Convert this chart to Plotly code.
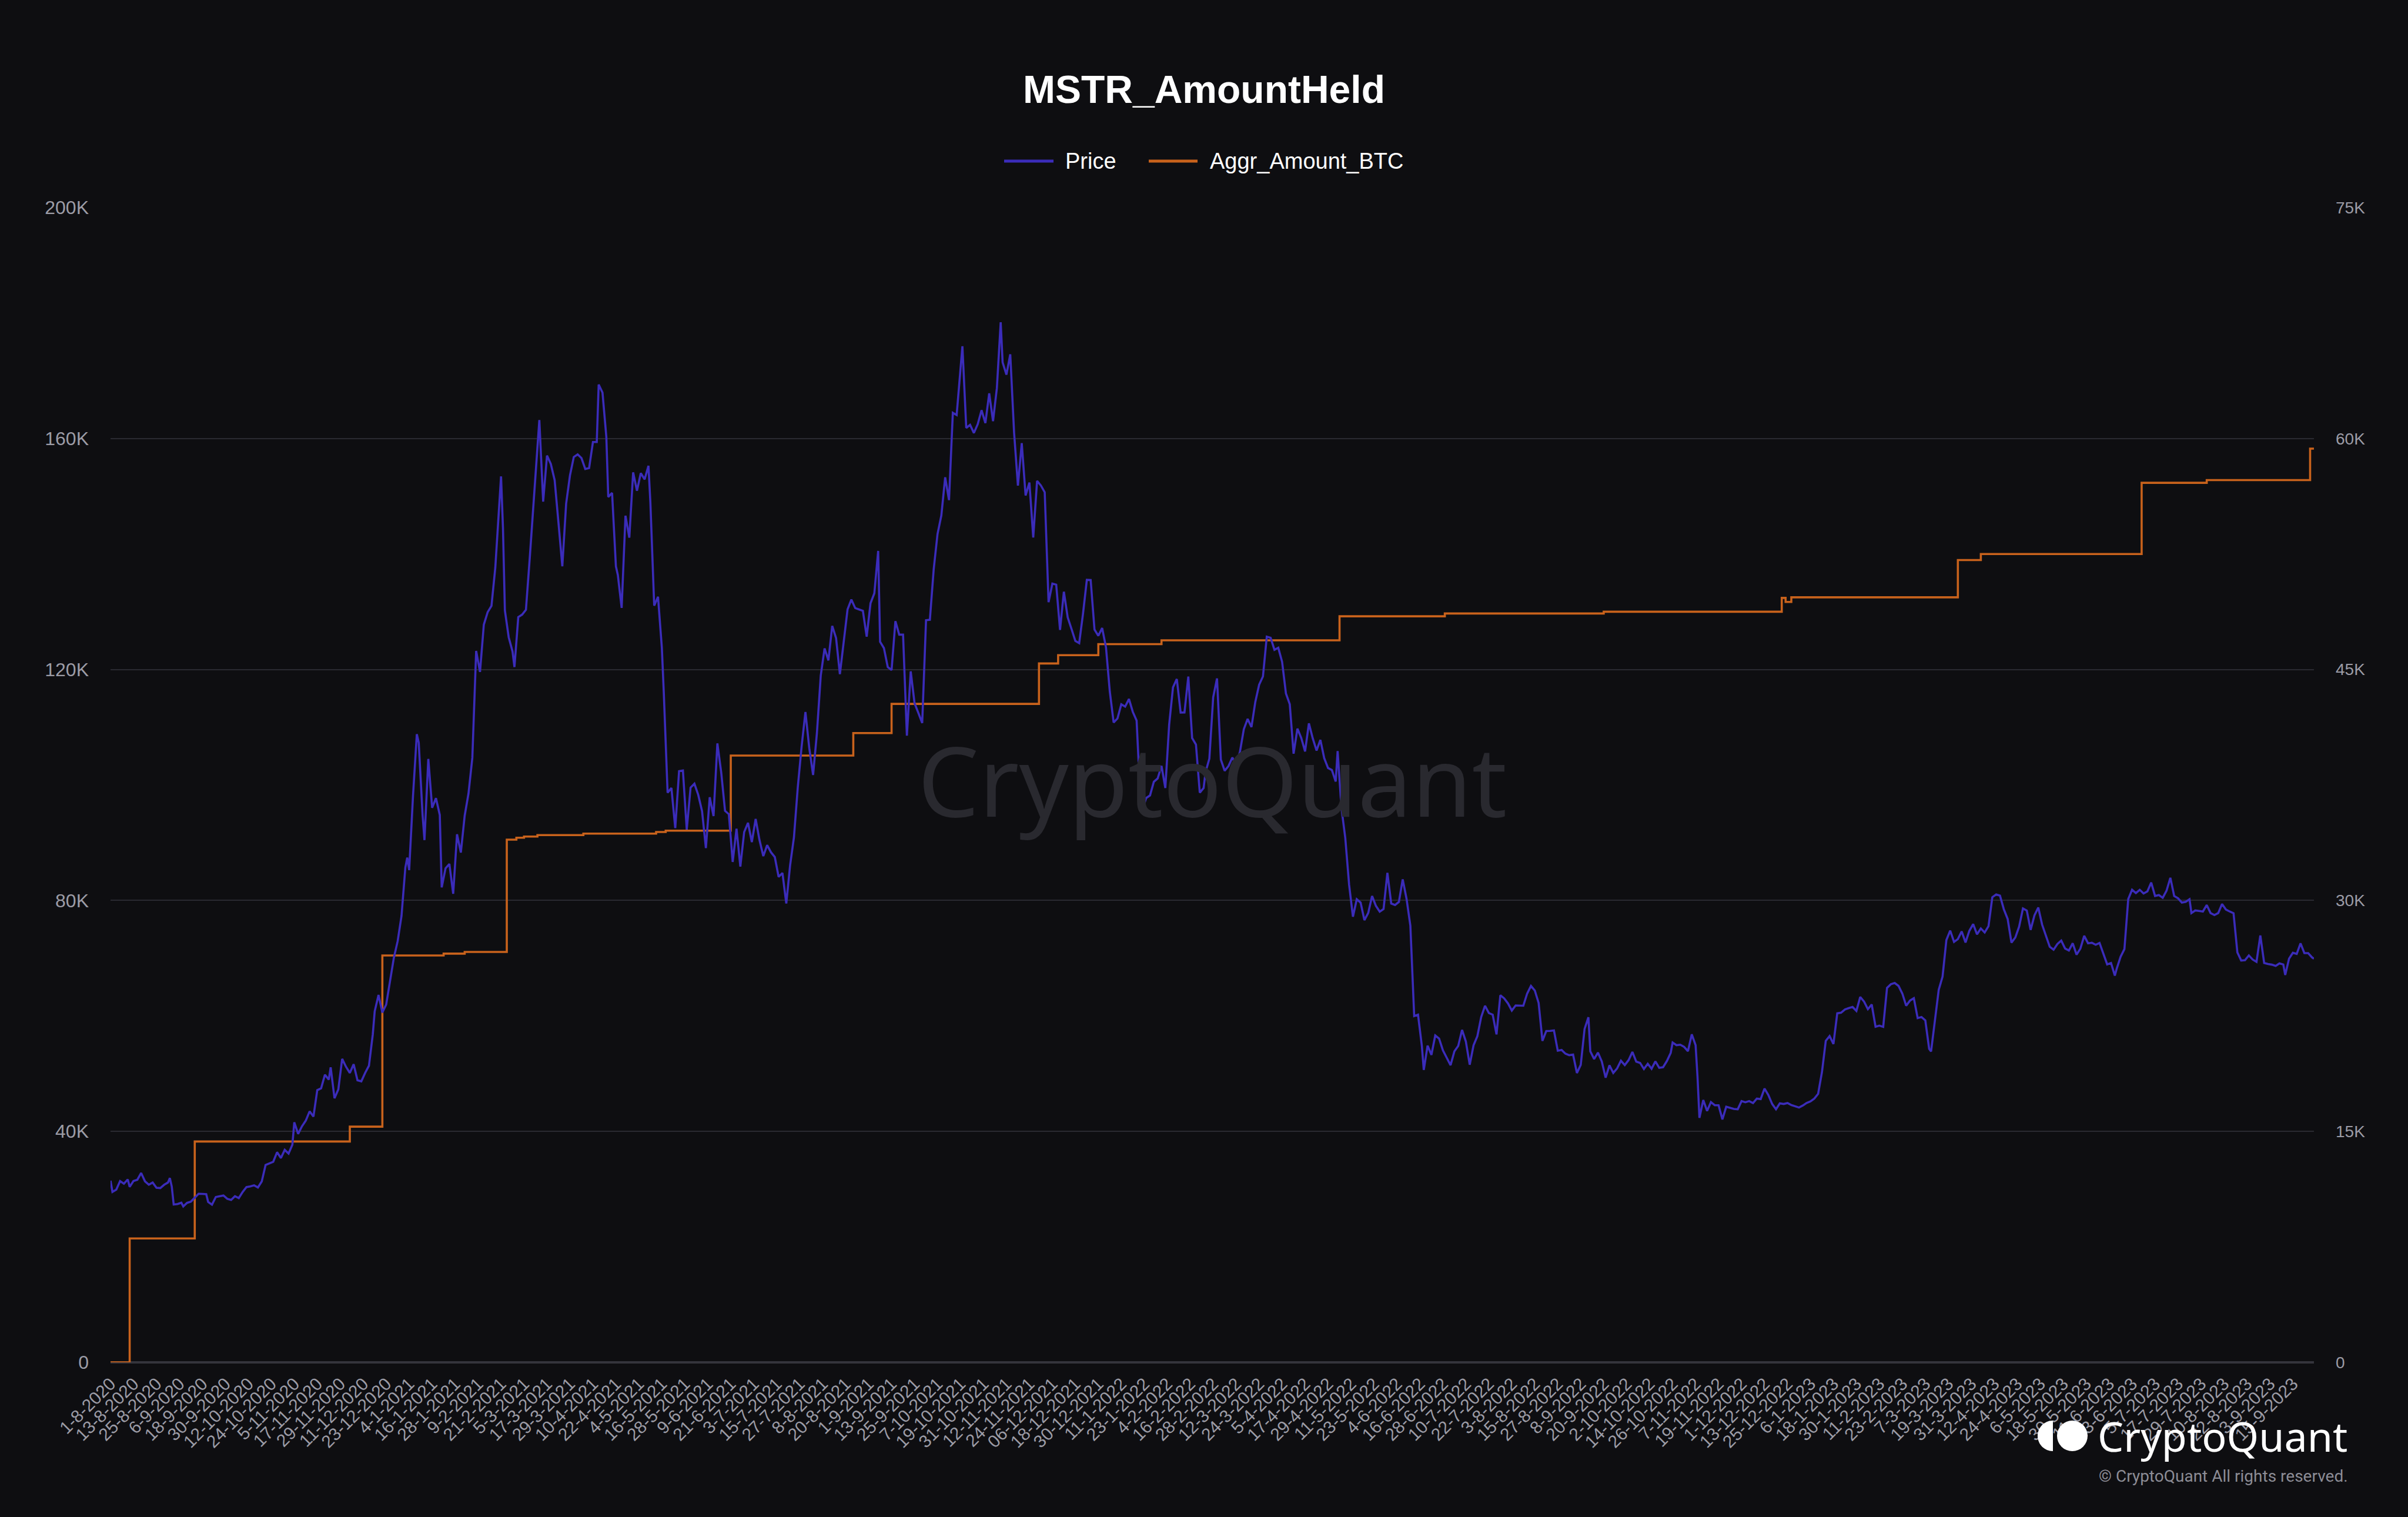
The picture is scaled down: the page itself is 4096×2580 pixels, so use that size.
import plotly.graph_objects as go
import datetime as dt

# ---------------- data ----------------
PRICE_2020 = [
    ("2020-08-01", 11800), ("2020-08-02", 11070), ("2020-08-04", 11220), ("2020-08-06", 11770), ("2020-08-08", 11600),
    ("2020-08-10", 11880), ("2020-08-11", 11400), ("2020-08-13", 11780), ("2020-08-15", 11860), ("2020-08-17", 12300),
    ("2020-08-19", 11760), ("2020-08-21", 11540), ("2020-08-23", 11680), ("2020-08-25", 11340), ("2020-08-27", 11320),
    ("2020-08-29", 11530), ("2020-08-31", 11680), ("2020-09-01", 11970), ("2020-09-02", 11410), ("2020-09-03", 10250),
    ("2020-09-05", 10280), ("2020-09-07", 10370), ("2020-09-08", 10130), ("2020-09-10", 10360), ("2020-09-12", 10440),
    ("2020-09-14", 10680), ("2020-09-16", 10950), ("2020-09-18", 10940), ("2020-09-20", 10920), ("2020-09-21", 10420),
    ("2020-09-23", 10240), ("2020-09-25", 10740), ("2020-09-27", 10780), ("2020-09-29", 10840), ("2020-10-01", 10620),
    ("2020-10-03", 10550), ("2020-10-05", 10790), ("2020-10-07", 10670), ("2020-10-09", 11060), ("2020-10-11", 11380),
    ("2020-10-13", 11430), ("2020-10-15", 11500), ("2020-10-17", 11360), ("2020-10-19", 11750), ("2020-10-21", 12820),
    ("2020-10-23", 12930), ("2020-10-25", 13030), ("2020-10-27", 13650), ("2020-10-29", 13270), ("2020-10-31", 13800),
    ("2020-11-02", 13560), ("2020-11-04", 14140), ("2020-11-05", 15590), ("2020-11-07", 14840), ("2020-11-09", 15330),
    ("2020-11-11", 15700), ("2020-11-13", 16300), ("2020-11-15", 15960), ("2020-11-17", 17680), ("2020-11-19", 17800),
    ("2020-11-21", 18680), ("2020-11-23", 18360), ("2020-11-24", 19160), ("2020-11-26", 17150), ("2020-11-28", 17730),
    ("2020-11-30", 19710), ("2020-12-02", 19200), ("2020-12-04", 18800), ("2020-12-06", 19360), ("2020-12-08", 18320),
    ("2020-12-10", 18250), ("2020-12-12", 18800), ("2020-12-14", 19270), ("2020-12-16", 21300), ("2020-12-17", 22800),
    ("2020-12-19", 23860), ("2020-12-21", 22720), ("2020-12-23", 23240), ("2020-12-25", 24700), ("2020-12-27", 26270),
    ("2020-12-29", 27360), ("2020-12-31", 28990),
]
PRICE_2021 = [
    ("2021-01-02", 32130), ("2021-01-03", 32780), ("2021-01-04", 31970), ("2021-01-06", 36770), ("2021-01-08", 40800),
    ("2021-01-09", 40250), ("2021-01-11", 35570), ("2021-01-12", 33920), ("2021-01-14", 39190), ("2021-01-16", 36020),
    ("2021-01-18", 36640), ("2021-01-20", 35550), ("2021-01-21", 30850), ("2021-01-23", 32080), ("2021-01-25", 32370),
    ("2021-01-27", 30430), ("2021-01-29", 34300), ("2021-01-31", 33110), ("2021-02-02", 35500), ("2021-02-04", 36950),
    ("2021-02-06", 39260), ("2021-02-08", 46200), ("2021-02-10", 44840), ("2021-02-12", 47910), ("2021-02-14", 48720),
    ("2021-02-16", 49130), ("2021-02-18", 51620), ("2021-02-20", 55890), ("2021-02-21", 57540), ("2021-02-22", 54200),
    ("2021-02-23", 48840), ("2021-02-25", 47090), ("2021-02-27", 46170), ("2021-02-28", 45160), ("2021-03-02", 48400),
    ("2021-03-04", 48560), ("2021-03-06", 48880), ("2021-03-08", 52250), ("2021-03-10", 55880), ("2021-03-13", 61200),
    ("2021-03-15", 55900), ("2021-03-17", 58890), ("2021-03-19", 58350), ("2021-03-21", 57300), ("2021-03-23", 54530),
    ("2021-03-25", 51700), ("2021-03-27", 55770), ("2021-03-29", 57600), ("2021-03-31", 58800), ("2021-04-02", 58970),
    ("2021-04-04", 58730), ("2021-04-06", 58020), ("2021-04-08", 58080), ("2021-04-10", 59770), ("2021-04-12", 59770),
    ("2021-04-13", 63500), ("2021-04-15", 62980), ("2021-04-16", 61450), ("2021-04-17", 60100), ("2021-04-18", 56200),
    ("2021-04-20", 56470), ("2021-04-22", 51700), ("2021-04-23", 51140), ("2021-04-25", 49000), ("2021-04-27", 54990),
    ("2021-04-29", 53560), ("2021-05-01", 57800), ("2021-05-03", 56610), ("2021-05-05", 57750), ("2021-05-07", 57350),
    ("2021-05-09", 58230), ("2021-05-10", 55860), ("2021-05-12", 49150), ("2021-05-14", 49720), ("2021-05-16", 46400),
    ("2021-05-17", 43540), ("2021-05-19", 37000), ("2021-05-21", 37300), ("2021-05-23", 34700), ("2021-05-25", 38400),
    ("2021-05-27", 38440), ("2021-05-29", 34600), ("2021-05-31", 37330), ("2021-06-02", 37580), ("2021-06-04", 36860),
    ("2021-06-06", 35800), ("2021-06-08", 33400), ("2021-06-10", 36700), ("2021-06-12", 35480), ("2021-06-14", 40200),
    ("2021-06-16", 38320), ("2021-06-18", 35820), ("2021-06-20", 35600), ("2021-06-22", 32500), ("2021-06-24", 34660),
    ("2021-06-26", 32200), ("2021-06-28", 34440), ("2021-06-30", 35040), ("2021-07-02", 33790), ("2021-07-04", 35290),
    ("2021-07-06", 33920), ("2021-07-08", 32880), ("2021-07-10", 33590), ("2021-07-12", 33130), ("2021-07-14", 32820),
    ("2021-07-16", 31530), ("2021-07-18", 31780), ("2021-07-20", 29800), ("2021-07-22", 32290), ("2021-07-24", 34100),
    ("2021-07-26", 37340), ("2021-07-28", 39990), ("2021-07-30", 42240), ("2021-08-01", 39900), ("2021-08-03", 38150),
    ("2021-08-05", 40870), ("2021-08-07", 44600), ("2021-08-09", 46370), ("2021-08-11", 45590), ("2021-08-13", 47830),
    ("2021-08-15", 47040), ("2021-08-17", 44700), ("2021-08-19", 46720), ("2021-08-21", 48900), ("2021-08-23", 49540),
    ("2021-08-25", 48990), ("2021-08-27", 48900), ("2021-08-29", 48810), ("2021-08-31", 47130), ("2021-09-02", 49300),
    ("2021-09-04", 49950), ("2021-09-06", 52700), ("2021-09-07", 46800), ("2021-09-09", 46390), ("2021-09-11", 45160),
    ("2021-09-13", 44960), ("2021-09-15", 48140), ("2021-09-17", 47260), ("2021-09-19", 47260), ("2021-09-21", 40700),
    ("2021-09-23", 44880), ("2021-09-25", 42810), ("2021-09-27", 42170), ("2021-09-29", 41520), ("2021-10-01", 48200),
    ("2021-10-03", 48230), ("2021-10-05", 51500), ("2021-10-07", 53800), ("2021-10-09", 55000), ("2021-10-11", 57480),
    ("2021-10-13", 56000), ("2021-10-15", 61670), ("2021-10-17", 61530), ("2021-10-19", 64260), ("2021-10-20", 65990),
    ("2021-10-22", 60690), ("2021-10-24", 60890), ("2021-10-26", 60360), ("2021-10-28", 60930), ("2021-10-30", 61840),
    ("2021-11-01", 61000), ("2021-11-03", 62930), ("2021-11-05", 61130), ("2021-11-07", 63270), ("2021-11-09", 67550),
    ("2021-11-10", 64950), ("2021-11-12", 64150), ("2021-11-14", 65470), ("2021-11-16", 60380), ("2021-11-18", 56940),
    ("2021-11-20", 59700), ("2021-11-22", 56300), ("2021-11-24", 57140), ("2021-11-26", 53570), ("2021-11-28", 57250),
    ("2021-11-30", 56950), ("2021-12-02", 56510), ("2021-12-04", 49370), ("2021-12-06", 50580), ("2021-12-08", 50510),
    ("2021-12-10", 47570), ("2021-12-12", 50050), ("2021-12-14", 48380), ("2021-12-16", 47630), ("2021-12-18", 46850),
    ("2021-12-20", 46710), ("2021-12-22", 48620), ("2021-12-24", 50820), ("2021-12-26", 50810), ("2021-12-28", 47590),
    ("2021-12-30", 47190),
]
PRICE_2022 = [
    ("2022-01-01", 47690), ("2022-01-03", 46440), ("2022-01-05", 43560), ("2022-01-07", 41560), ("2022-01-09", 41820),
    ("2022-01-11", 42740), ("2022-01-13", 42590), ("2022-01-15", 43080), ("2022-01-17", 42250), ("2022-01-19", 41680),
    ("2022-01-21", 36480), ("2022-01-23", 36280), ("2022-01-24", 36650), ("2022-01-26", 36820), ("2022-01-28", 37710),
    ("2022-01-30", 37920), ("2022-02-01", 38740), ("2022-02-03", 37300), ("2022-02-05", 41410), ("2022-02-07", 43840),
    ("2022-02-09", 44380), ("2022-02-11", 42200), ("2022-02-13", 42210), ("2022-02-15", 44540), ("2022-02-17", 40550),
    ("2022-02-19", 40120), ("2022-02-21", 37000), ("2022-02-23", 37300), ("2022-02-24", 38330), ("2022-02-26", 39210),
    ("2022-02-28", 43190), ("2022-03-02", 44420), ("2022-03-04", 39150), ("2022-03-06", 38420), ("2022-03-08", 38730),
    ("2022-03-10", 39280), ("2022-03-12", 38800), ("2022-03-14", 39670), ("2022-03-16", 41120), ("2022-03-18", 41790),
    ("2022-03-20", 41260), ("2022-03-22", 42890), ("2022-03-24", 44010), ("2022-03-26", 44550), ("2022-03-28", 47130),
    ("2022-03-30", 47060), ("2022-04-01", 46280), ("2022-04-03", 46410), ("2022-04-05", 45500), ("2022-04-07", 43440),
    ("2022-04-09", 42750), ("2022-04-11", 39530), ("2022-04-13", 41160), ("2022-04-15", 40550), ("2022-04-17", 39680),
    ("2022-04-19", 41500), ("2022-04-21", 40530), ("2022-04-23", 39740), ("2022-04-25", 40430), ("2022-04-27", 39240),
    ("2022-04-29", 38600), ("2022-05-01", 38470), ("2022-05-03", 37720), ("2022-05-04", 39700), ("2022-05-06", 36010),
    ("2022-05-08", 34060), ("2022-05-10", 31020), ("2022-05-12", 28940), ("2022-05-14", 30080), ("2022-05-16", 29860),
    ("2022-05-18", 28720), ("2022-05-20", 29190), ("2022-05-22", 30290), ("2022-05-24", 29650), ("2022-05-26", 29270),
    ("2022-05-28", 29440), ("2022-05-30", 31790), ("2022-06-01", 29800), ("2022-06-03", 29700), ("2022-06-05", 29900),
    ("2022-06-07", 31370), ("2022-06-09", 30110), ("2022-06-11", 28360), ("2022-06-13", 22490), ("2022-06-15", 22580),
    ("2022-06-17", 20550), ("2022-06-18", 18990), ("2022-06-20", 20570), ("2022-06-22", 19970), ("2022-06-24", 21230),
    ("2022-06-26", 21030), ("2022-06-28", 20270), ("2022-06-30", 19780), ("2022-07-02", 19300), ("2022-07-04", 20200),
    ("2022-07-06", 20550), ("2022-07-08", 21590), ("2022-07-10", 20830), ("2022-07-12", 19330), ("2022-07-14", 20590),
    ("2022-07-16", 21190), ("2022-07-18", 22430), ("2022-07-20", 23160), ("2022-07-22", 22690), ("2022-07-24", 22580),
    ("2022-07-26", 21300), ("2022-07-28", 23840), ("2022-07-30", 23640), ("2022-08-01", 23310), ("2022-08-03", 22850),
    ("2022-08-05", 23180), ("2022-08-07", 23180), ("2022-08-09", 23160), ("2022-08-11", 23950), ("2022-08-13", 24450),
    ("2022-08-15", 24150), ("2022-08-17", 23340), ("2022-08-19", 20880), ("2022-08-21", 21520), ("2022-08-23", 21530),
    ("2022-08-25", 21560), ("2022-08-27", 20240), ("2022-08-29", 20290), ("2022-08-31", 20050), ("2022-09-02", 19950),
    ("2022-09-04", 19990), ("2022-09-06", 18790), ("2022-09-08", 19320), ("2022-09-10", 21650), ("2022-09-12", 22410),
    ("2022-09-13", 20200), ("2022-09-15", 19700), ("2022-09-17", 20120), ("2022-09-19", 19540), ("2022-09-21", 18490),
    ("2022-09-23", 19290), ("2022-09-25", 18800), ("2022-09-27", 19090), ("2022-09-29", 19590), ("2022-10-01", 19310),
    ("2022-10-03", 19630), ("2022-10-05", 20160), ("2022-10-07", 19530), ("2022-10-09", 19450), ("2022-10-11", 19050),
    ("2022-10-13", 19390), ("2022-10-15", 19070), ("2022-10-17", 19550), ("2022-10-19", 19130), ("2022-10-21", 19170),
    ("2022-10-23", 19570), ("2022-10-25", 20100), ("2022-10-26", 20770), ("2022-10-28", 20600), ("2022-10-30", 20630),
    ("2022-11-01", 20490), ("2022-11-03", 20210), ("2022-11-05", 21300), ("2022-11-07", 20600), ("2022-11-08", 18540),
    ("2022-11-09", 15880), ("2022-11-11", 17040), ("2022-11-13", 16330), ("2022-11-15", 16900), ("2022-11-17", 16700),
    ("2022-11-19", 16700), ("2022-11-21", 15780), ("2022-11-23", 16600), ("2022-11-25", 16520), ("2022-11-27", 16460),
    ("2022-11-29", 16440), ("2022-12-01", 16970), ("2022-12-03", 16890), ("2022-12-05", 16970), ("2022-12-07", 16840),
    ("2022-12-09", 17130), ("2022-12-11", 17100), ("2022-12-13", 17780), ("2022-12-15", 17360), ("2022-12-17", 16780),
    ("2022-12-19", 16440), ("2022-12-21", 16820), ("2022-12-23", 16780), ("2022-12-25", 16840), ("2022-12-27", 16710),
    ("2022-12-29", 16630), ("2022-12-31", 16550),
]
PRICE_2023 = [
    ("2023-01-02", 16680), ("2023-01-04", 16850), ("2023-01-06", 16950), ("2023-01-08", 17130), ("2023-01-10", 17440),
    ("2023-01-12", 18850), ("2023-01-14", 20880), ("2023-01-16", 21190), ("2023-01-18", 20680), ("2023-01-20", 22670),
    ("2023-01-22", 22710), ("2023-01-24", 22920), ("2023-01-26", 23010), ("2023-01-28", 23080), ("2023-01-30", 22830),
    ("2023-02-01", 23730), ("2023-02-03", 23430), ("2023-02-05", 22940), ("2023-02-07", 23240), ("2023-02-09", 21800),
    ("2023-02-11", 21870), ("2023-02-13", 21790), ("2023-02-15", 24320), ("2023-02-17", 24560), ("2023-02-19", 24640),
    ("2023-02-21", 24450), ("2023-02-23", 23950), ("2023-02-25", 23160), ("2023-02-27", 23500), ("2023-03-01", 23650),
    ("2023-03-03", 22360), ("2023-03-05", 22430), ("2023-03-07", 22210), ("2023-03-09", 20360), ("2023-03-10", 20190),
    ("2023-03-12", 22130), ("2023-03-14", 24200), ("2023-03-16", 25050), ("2023-03-18", 27430), ("2023-03-20", 28040),
    ("2023-03-22", 27310), ("2023-03-24", 27490), ("2023-03-26", 27990), ("2023-03-28", 27270), ("2023-03-30", 28030),
    ("2023-04-01", 28460), ("2023-04-03", 27800), ("2023-04-05", 28180), ("2023-04-07", 27920), ("2023-04-09", 28330),
    ("2023-04-11", 30210), ("2023-04-13", 30390), ("2023-04-15", 30310), ("2023-04-17", 29430), ("2023-04-19", 28800),
    ("2023-04-21", 27260), ("2023-04-23", 27590), ("2023-04-25", 28300), ("2023-04-27", 29480), ("2023-04-29", 29340),
    ("2023-05-01", 28090), ("2023-05-03", 29030), ("2023-05-05", 29540), ("2023-05-07", 28430), ("2023-05-09", 27660),
    ("2023-05-11", 26990), ("2023-05-13", 26800), ("2023-05-15", 27170), ("2023-05-17", 27390), ("2023-05-19", 26880),
    ("2023-05-21", 26750), ("2023-05-23", 27220), ("2023-05-25", 26480), ("2023-05-27", 26870), ("2023-05-29", 27700),
    ("2023-05-31", 27220), ("2023-06-02", 27250), ("2023-06-04", 27120), ("2023-06-06", 27240), ("2023-06-08", 26500),
    ("2023-06-10", 25850), ("2023-06-12", 25940), ("2023-06-14", 25120), ("2023-06-15", 25580), ("2023-06-17", 26340),
    ("2023-06-19", 26840), ("2023-06-21", 30090), ("2023-06-23", 30690), ("2023-06-25", 30480), ("2023-06-27", 30690),
    ("2023-06-29", 30450), ("2023-07-01", 30590), ("2023-07-03", 31160), ("2023-07-05", 30290), ("2023-07-07", 30350),
    ("2023-07-09", 30170), ("2023-07-11", 30630), ("2023-07-13", 31470), ("2023-07-15", 30290), ("2023-07-17", 30140),
    ("2023-07-19", 29860), ("2023-07-21", 29910), ("2023-07-23", 30080), ("2023-07-24", 29180), ("2023-07-26", 29350),
    ("2023-07-28", 29320), ("2023-07-30", 29280), ("2023-08-01", 29700), ("2023-08-03", 29180), ("2023-08-05", 29050),
    ("2023-08-07", 29180), ("2023-08-09", 29770), ("2023-08-11", 29410), ("2023-08-13", 29280), ("2023-08-15", 29170),
    ("2023-08-17", 26630), ("2023-08-19", 26100), ("2023-08-21", 26120), ("2023-08-23", 26430), ("2023-08-25", 26160),
    ("2023-08-27", 26010), ("2023-08-29", 27720), ("2023-08-31", 25940), ("2023-09-02", 25870), ("2023-09-04", 25830),
    ("2023-09-06", 25750), ("2023-09-08", 25910), ("2023-09-10", 25840), ("2023-09-11", 25160), ("2023-09-13", 26220),
    ("2023-09-15", 26600), ("2023-09-17", 26530), ("2023-09-19", 27210), ("2023-09-21", 26580), ("2023-09-23", 26580),
    ("2023-09-25", 26300), ("2023-09-26", 26220),
]

AMOUNT_DATES = [
    "2020-08-01", "2020-08-11", "2020-09-14", "2020-12-04", "2020-12-21", "2021-01-22", "2021-02-02",
    "2021-02-24", "2021-03-01", "2021-03-05", "2021-03-12", "2021-04-05", "2021-05-13", "2021-05-18",
    "2021-06-21", "2021-08-24", "2021-09-13", "2021-11-29", "2021-12-09", "2021-12-30", "2022-02-01",
    "2022-05-05", "2022-06-29", "2022-09-20", "2022-12-22", "2022-12-24", "2022-12-27", "2023-03-24",
    "2023-04-05", "2023-06-28", "2023-08-01", "2023-09-24", "2023-09-26",
]
AMOUNT_BTC = [
    0, 21454, 38250, 40824, 70470, 70784, 71079,
    90531, 90859, 91064, 91326, 91579, 91850, 92079,
    105085, 108992, 114042, 121044, 122478, 124391, 125051,
    129218, 129699, 130000, 132395, 131691, 132500, 138955,
    140000, 152333, 152800, 158245, 158245,
]

LEFT_TICKS = [0, 40000, 80000, 120000, 160000, 200000]
LEFT_LABELS = ["0", "40K", "80K", "120K", "160K", "200K"]
RIGHT_TICKS = [0, 15000, 30000, 45000, 60000, 75000]
RIGHT_LABELS = ["0", "15K", "30K", "45K", "60K", "75K"]

X_START = "2020-08-01"
X_END = "2023-09-26"
TICK_STEP_DAYS = 12
_d0 = dt.date(2020, 8, 1)
_d1 = dt.date(2023, 9, 26)
TICK_DATES = []
TICK_LABELS = []
_d = _d0
while _d <= _d1:
    TICK_DATES.append(_d.isoformat())
    TICK_LABELS.append(f"{_d.day}-{_d.month}-{_d.year}")
    _d += dt.timedelta(days=TICK_STEP_DAYS)
TICK_LABELS = ["06-12-2021" if t == "6-12-2021" else t for t in TICK_LABELS]

price_pts = PRICE_2020 + PRICE_2021 + PRICE_2022 + PRICE_2023
price_x = [p[0] for p in price_pts]
price_y = [p[1] for p in price_pts]

# ---------------- geometry helpers (pixels -> paper) ----------------
W, H = 4096, 2580
ML, MR, MT, MB = 188, 160, 353, 263
PW, PH = W - ML - MR, H - MT - MB


def xp(px):
    return (px - ML) / PW


def yp(py):
    return (H - MB - py) / PH


BG = "#0e0e11"
PRICE_COLOR = "#3b2cba"
AMOUNT_COLOR = "#c8621c"
TICK_COLOR = "#9c9ca6"
GRID_COLOR = "#2a2a31"
FONT = "Liberation Sans, Arial, sans-serif"

fig = go.Figure()
fig.add_trace(go.Scatter(
    x=price_x, y=price_y, name="Price", yaxis="y2", mode="lines",
    line=dict(color=PRICE_COLOR, width=3.6), showlegend=False,
))
fig.add_trace(go.Scatter(
    x=AMOUNT_DATES, y=AMOUNT_BTC, name="Aggr_Amount_BTC", yaxis="y", mode="lines",
    line=dict(color=AMOUNT_COLOR, width=3.6, shape="hv"), showlegend=False,
))

shapes = []
annotations = []

# custom legend
leg_y = 274
for (x0, x1, tx, label, col) in [
    (1708, 1792, 1810, "Price", PRICE_COLOR),
    (1954, 2037, 2056, "Aggr_Amount_BTC", AMOUNT_COLOR),
]:
    shapes.append(dict(type="line", xref="paper", yref="paper",
                       x0=xp(x0), x1=xp(x1), y0=yp(leg_y), y1=yp(leg_y),
                       line=dict(color=col, width=5)))
    annotations.append(dict(text=label, xref="paper", yref="paper", x=xp(tx), y=yp(leg_y),
                            xanchor="left", yanchor="middle", showarrow=False,
                            font=dict(family=FONT, size=38, color="#ffffff")))

# watermark
annotations.append(dict(text="CryptoQuant", xref="paper", yref="paper", x=0.5, y=0.505,
                        xanchor="center", yanchor="middle", showarrow=False,
                        font=dict(family="Noto Sans, sans-serif", size=165, color="#29292f")))

# bottom-right logo
annotations.append(dict(text="CryptoQuant", xref="paper", yref="paper", x=xp(3995), y=yp(2442),
                        xanchor="right", yanchor="middle", showarrow=False,
                        font=dict(family="Noto Sans, sans-serif", size=70, color="#ffffff")))
annotations.append(dict(text="© CryptoQuant All rights reserved.", xref="paper", yref="paper",
                        x=xp(3996), y=yp(2510), xanchor="right", yanchor="middle", showarrow=False,
                        font=dict(family="Roboto, sans-serif", size=28, color="#8c8c95")))


def px_path(points):
    """points: list of (cmd, [(x,y),...]) in pixel coords -> paper path string."""
    out = []
    for cmd, pts in points:
        coords = " ".join(f"{xp(x):.5f},{yp(y):.5f}" for x, y in pts)
        out.append(f"{cmd} {coords}" if pts else cmd)
    return " ".join(out)


# logo icon: left half-disc + right disc with a notch
k = 0.5523
cx, cy, r = 3492, 2442, 26
half = px_path([
    ("M", [(cx, cy - r)]),
    ("C", [(cx - k * r, cy - r), (cx - r, cy - k * r), (cx - r, cy)]),
    ("C", [(cx - r, cy + k * r), (cx - k * r, cy + r), (cx, cy + r)]),
    ("Z", []),
])
shapes.append(dict(type="path", xref="paper", yref="paper", path=half,
                   fillcolor="#ffffff", line=dict(width=0)))
shapes.append(dict(type="circle", xref="paper", yref="paper",
                   x0=xp(3499), x1=xp(3551), y0=yp(2468), y1=yp(2416),
                   fillcolor="#ffffff", line=dict(width=0)))
notch = px_path([
    ("M", [(3525, 2442)]),
    ("L", [(3553, 2452), (3553, 2470), (3538, 2470)]),
    ("Z", []),
])
shapes.append(dict(type="path", xref="paper", yref="paper", path=notch,
                   fillcolor=BG, line=dict(width=0)))

fig.update_layout(
    width=W, height=H,
    paper_bgcolor=BG, plot_bgcolor=BG,
    margin=dict(l=ML, r=MR, t=MT, b=MB, autoexpand=False),
    title=dict(text="<b>MSTR_AmountHeld</b>", x=0.5, xanchor="center", y=1 - 152 / H, yanchor="middle",
               font=dict(family=FONT, size=66, color="#ffffff")),
    font=dict(family=FONT, color=TICK_COLOR),
    showlegend=False,
    xaxis=dict(type="date", range=[X_START, X_END], tickmode="array",
               tickvals=TICK_DATES, ticktext=TICK_LABELS, tickangle=-45,
               tickfont=dict(family=FONT, size=30, color=TICK_COLOR),
               showgrid=False, zeroline=False, showline=False, ticks="",
               ticklabelstandoff=12),
    yaxis=dict(range=[0, 200000], tickmode="array", tickvals=LEFT_TICKS, ticktext=LEFT_LABELS,
               tickfont=dict(family=FONT, size=32, color=TICK_COLOR),
               showgrid=True, gridcolor=GRID_COLOR, gridwidth=2,
               zeroline=True, zerolinecolor="#34343c", zerolinewidth=4,
               showline=False, ticks="", ticklabelstandoff=36),
    yaxis2=dict(range=[0, 75000], tickmode="array", tickvals=RIGHT_TICKS, ticktext=RIGHT_LABELS,
                overlaying="y", side="right",
                tickfont=dict(family=FONT, size=28, color=TICK_COLOR),
                showgrid=False, zeroline=False, showline=False, ticks="", ticklabelstandoff=36),
    shapes=shapes,
    annotations=annotations,
)

fig.write_html(
    "out.html",
    config={"displayModeBar": False},
    post_script="document.body.style.margin='0';document.body.style.background='#0e0e11';",
)
